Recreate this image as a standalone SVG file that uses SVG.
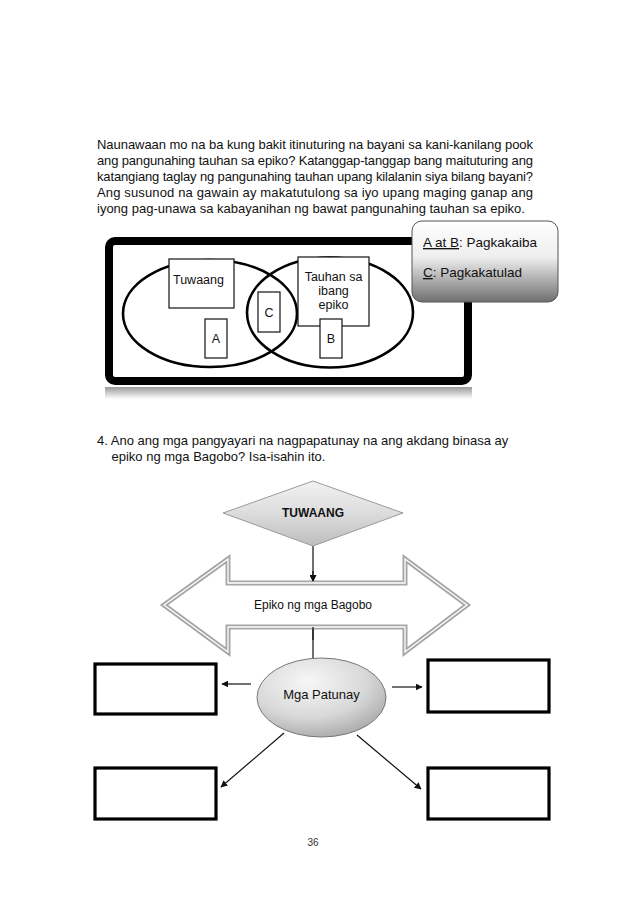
<svg xmlns="http://www.w3.org/2000/svg" width="638" height="903" viewBox="0 0 638 903">
<defs>
<style>
.t{font-family:"Liberation Sans",Arial,sans-serif;fill:#111;}
.p{font-size:13px;}
.s{font-size:12.5px;}
.box{fill:#fff;stroke:#111;stroke-width:1.2;}
.bbox{fill:#fff;stroke:#000;stroke-width:3.2;}
.ven{fill:none;stroke:#000;stroke-width:2.6;}
.con{stroke:#111;stroke-width:1.2;fill:none;}
</style>
<marker id="ah" viewBox="0 0 10 10" refX="9" refY="5" markerWidth="7" markerHeight="7" markerUnits="userSpaceOnUse" orient="auto">
<path d="M0,0 L10,5 L0,10 Z" fill="#111"/>
</marker>
<linearGradient id="legG" x1="0" y1="0" x2="0" y2="1">
<stop offset="0" stop-color="#ffffff"/>
<stop offset="0.45" stop-color="#eeeeee"/>
<stop offset="1" stop-color="#6f6f6f"/>
</linearGradient>
<linearGradient id="refl" x1="0" y1="0" x2="0" y2="1">
<stop offset="0" stop-color="#9a9a9a"/>
<stop offset="1" stop-color="#ffffff"/>
</linearGradient>
<linearGradient id="diaG" x1="0" y1="0" x2="0" y2="1">
<stop offset="0" stop-color="#f2f2f2"/>
<stop offset="0.5" stop-color="#dcdcdc"/>
<stop offset="1" stop-color="#bdbdbd"/>
</linearGradient>
<radialGradient id="ellG" cx="0.4" cy="0.3" r="0.75">
<stop offset="0" stop-color="#f7f7f7"/>
<stop offset="0.6" stop-color="#d8d8d8"/>
<stop offset="1" stop-color="#a8a8a8"/>
</radialGradient>
</defs>
<rect width="638" height="903" fill="#fff"/>

<g id="paragraph">
<text class="t p" x="97" y="148.5" textLength="436" lengthAdjust="spacing">Naunawaan mo na ba kung bakit itinuturing na bayani sa kani-kanilang pook</text>
<text class="t p" x="97" y="164.5" textLength="436" lengthAdjust="spacing">ang pangunahing tauhan sa epiko? Katanggap-tanggap bang maituturing ang</text>
<text class="t p" x="97" y="180.5" textLength="436" lengthAdjust="spacing">katangiang taglay ng pangunahing tauhan upang kilalanin siya bilang bayani?</text>
<text class="t p" x="97" y="196.5" textLength="436" lengthAdjust="spacing">Ang susunod na gawain ay makatutulong sa iyo upang maging ganap ang</text>
<text class="t p" x="97" y="212.5">iyong pag-unawa sa kabayanihan ng bawat pangunahing tauhan sa epiko.</text>
</g>

<g id="venn-frame">
<rect x="109" y="241" width="359" height="140" rx="6" fill="#fff" stroke="#000" stroke-width="8"/>
<rect x="105" y="387" width="367" height="12" fill="url(#refl)"/>
</g>
<g id="venn-left">
<ellipse class="ven" cx="210" cy="313.5" rx="87" ry="53.5"/>
</g>
<g id="venn-right">
<ellipse class="ven" cx="330" cy="312.5" rx="83" ry="55"/>
</g>
<g id="box-tuwaang">
<rect class="box" x="169" y="259" width="65" height="49"/>
<text class="t s" x="173" y="284">Tuwaang</text>
</g>
<g id="box-tauhan">
<rect class="box" x="298" y="257" width="71" height="69"/>
<text class="t s" x="333.5" y="281" text-anchor="middle">Tauhan sa</text>
<text class="t s" x="333.5" y="295" text-anchor="middle">ibang</text>
<text class="t s" x="333.5" y="309" text-anchor="middle">epiko</text>
</g>
<g id="box-c">
<rect class="box" x="258" y="292" width="22" height="40"/>
<text class="t s" x="269" y="317" text-anchor="middle">C</text>
</g>
<g id="box-a">
<rect class="box" x="205" y="319" width="22" height="39"/>
<text class="t s" x="216" y="343" text-anchor="middle">A</text>
</g>
<g id="box-b">
<rect class="box" x="320" y="319" width="22" height="39"/>
<text class="t s" x="331" y="343" text-anchor="middle">B</text>
</g>
<g id="legend">
<rect x="412" y="221" width="146" height="81" rx="10" fill="url(#legG)" stroke="#555" stroke-width="1"/>
<text class="t p" x="423" y="247" style="font-size:13.5px"><tspan text-decoration="underline">A at B</tspan>: Pagkakaiba</text>
<text class="t p" x="423" y="277" style="font-size:13.5px"><tspan text-decoration="underline">C</tspan>: Pagkakatulad</text>
</g>

<g id="question">
<text class="t p" x="97" y="444.5">4. Ano ang mga pangyayari na nagpapatunay na ang akdang binasa ay</text>
<text class="t p" x="111.5" y="460.5">epiko ng mga Bagobo? Isa-isahin ito.</text>
</g>

<g id="connectors">
<line class="con" x1="313" y1="546" x2="313" y2="581" marker-end="url(#ah)"/>
<line class="con" x1="313" y1="627" x2="313" y2="658"/>
<line class="con" x1="251" y1="684" x2="222" y2="684" marker-end="url(#ah)"/>
<line class="con" x1="392" y1="687" x2="422" y2="687" marker-end="url(#ah)"/>
<line class="con" x1="284" y1="733" x2="221" y2="787" marker-end="url(#ah)"/>
<line class="con" x1="357" y1="735" x2="421" y2="789" marker-end="url(#ah)"/>
</g>

<g id="diamond">
<polygon points="313,481 403,513 313,546 223,513" fill="url(#diaG)" stroke="#9a9a9a" stroke-width="1"/>
<text class="t s" x="313" y="517" text-anchor="middle" font-weight="bold" style="font-size:12px">TUWAANG</text>
</g>

<g id="double-arrow">
<polygon points="164,605 228,559 228,583 405,583 405,559 467,605 405,652 405,627 228,627 228,652" fill="#fff" stroke="#a6a6a6" stroke-width="5" stroke-linejoin="miter"/>
<polygon points="164,605 228,559 228,583 405,583 405,559 467,605 405,652 405,627 228,627 228,652" fill="none" stroke="#fff" stroke-width="1.3" stroke-linejoin="miter"/>
<line class="con" x1="313" y1="571" x2="313" y2="581" marker-end="url(#ah)"/>
<line class="con" x1="313" y1="627" x2="313" y2="640"/>
<text class="t s" x="313" y="609" text-anchor="middle" style="font-size:12px">Epiko ng mga Bagobo</text>
</g>

<g id="patunay">
<ellipse cx="321.5" cy="697.5" rx="64.5" ry="39.5" fill="url(#ellG)" stroke="#777" stroke-width="1"/>
<text class="t p" x="321.5" y="699" text-anchor="middle">Mga Patunay</text>
</g>

<g id="box-tl"><rect class="bbox" x="95" y="664" width="121" height="50"/></g>
<g id="box-tr"><rect class="bbox" x="428" y="660" width="121" height="52"/></g>
<g id="box-bl"><rect class="bbox" x="95" y="768" width="121" height="51"/></g>
<g id="box-br"><rect class="bbox" x="428" y="768" width="121" height="51"/></g>

<g id="page-number">
<text x="313" y="846" text-anchor="middle" font-family="'Liberation Sans',Arial,sans-serif" font-size="10" fill="#333">36</text>
</g>
</svg>
